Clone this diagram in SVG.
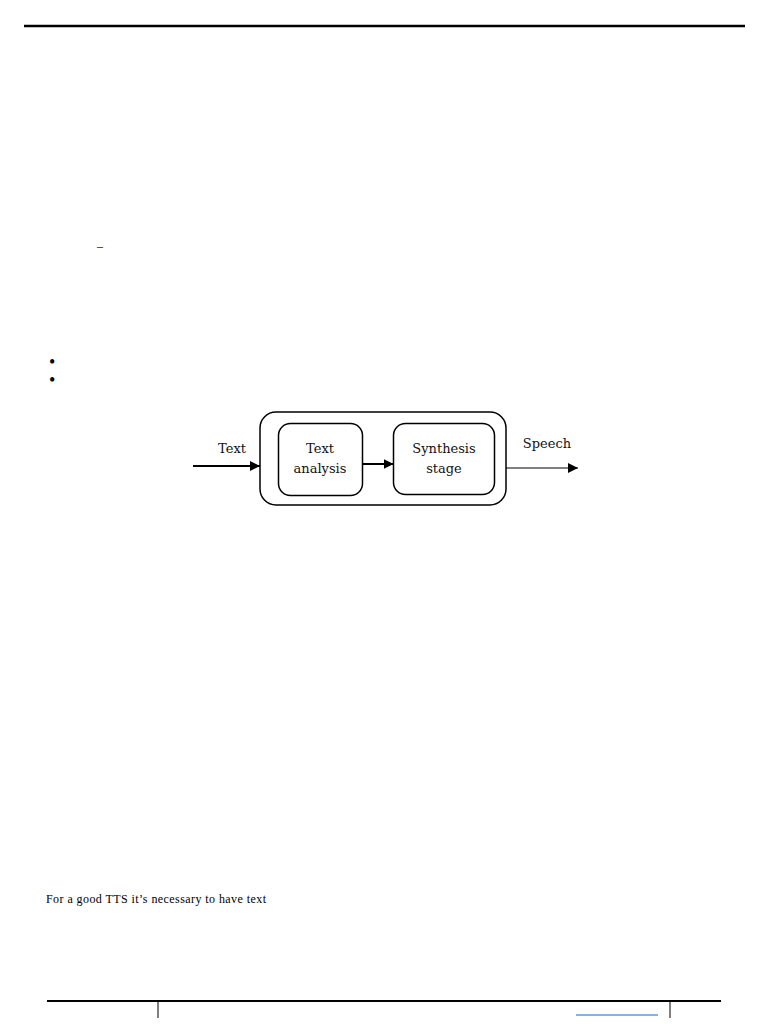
<svg xmlns="http://www.w3.org/2000/svg" width="768" height="1024" viewBox="0 0 768 1024">
<defs>
<marker id="ah" viewBox="0 0 10 10" refX="10" refY="5" markerWidth="10" markerHeight="10" markerUnits="userSpaceOnUse" orient="auto">
<path d="M0,0 L10,5 L0,10 z" fill="#000"/>
</marker>
</defs>
<style>
.box{fill:#fff;stroke:#000;stroke-width:1.5}
.lbl{font-family:"DejaVu Serif","Liberation Serif",serif;font-size:13px;fill:#111;text-anchor:middle}
.body{font-family:"Liberation Serif",serif;fill:#000}
.conn{stroke:#000;fill:none}
</style>
<rect width="768" height="1024" fill="#fff"/>
<line x1="24" y1="26" x2="745" y2="26" stroke="#000" stroke-width="2.5"/>
<text class="body" x="97" y="250" font-size="12">–</text>
<text class="body" x="49" y="368" font-size="18">•</text>
<text class="body" x="49" y="386" font-size="18">•</text>
<g id="system">
<rect class="box" x="260" y="412" width="246" height="93" rx="16"/>
</g>
<g id="text-analysis">
<rect class="box" x="278.5" y="423.5" width="84" height="72" rx="12"/>
<text class="lbl" x="320" y="453">Text</text>
<text class="lbl" x="320" y="473">analysis</text>
</g>
<g id="synthesis-stage">
<rect class="box" x="393.5" y="423.5" width="101" height="71" rx="12"/>
<text class="lbl" x="444" y="453">Synthesis</text>
<text class="lbl" x="444" y="473">stage</text>
</g>
<g id="connectors">
<line class="conn" x1="193" y1="466" x2="260" y2="466" stroke-width="2" marker-end="url(#ah)"/>
<line class="conn" x1="362.5" y1="464" x2="393.5" y2="464" stroke-width="2" marker-end="url(#ah)"/>
<line class="conn" x1="506" y1="468" x2="578" y2="468" stroke-width="1" marker-end="url(#ah)"/>
<text class="lbl" x="232" y="453">Text</text>
<text class="lbl" x="547" y="448">Speech</text>
</g>
<text class="body" x="46" y="903" font-size="12" textLength="220" lengthAdjust="spacing">For a good TTS it’s necessary to have text</text>
<line x1="47" y1="1001" x2="721" y2="1001" stroke="#000" stroke-width="2"/>
<line x1="158" y1="1001" x2="158" y2="1018" stroke="#000" stroke-width="1"/>
<line x1="670" y1="1001" x2="670" y2="1018" stroke="#000" stroke-width="1"/>
<line x1="576" y1="1015" x2="658" y2="1015" stroke="#5b9bd5" stroke-width="1.5"/>
</svg>
